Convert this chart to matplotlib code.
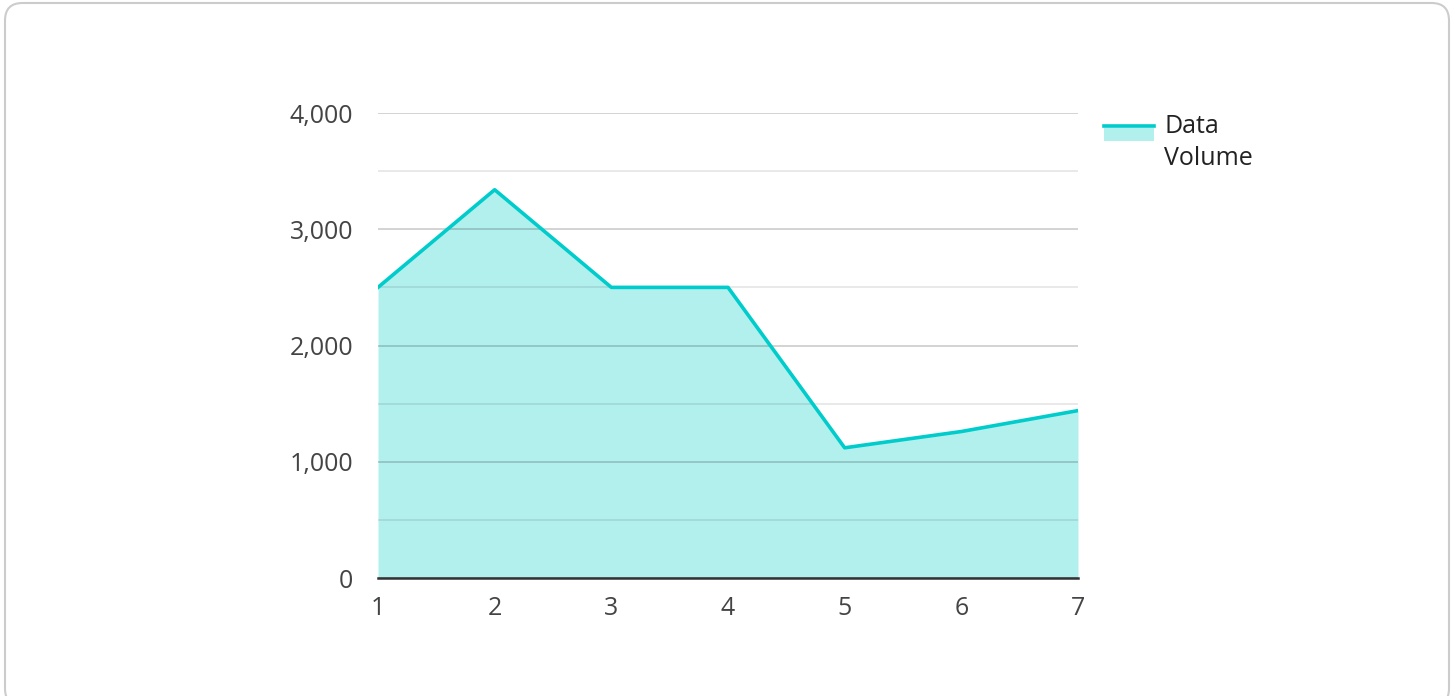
import matplotlib.pyplot as plt
from matplotlib.patches import FancyBboxPatch, Patch
from matplotlib.lines import Line2D
from matplotlib.legend_handler import HandlerBase
from matplotlib.ticker import FuncFormatter, MultipleLocator

plt.rcParams['font.family'] = ['Open Sans', 'DejaVu Sans']

x = [1, 2, 3, 4, 5, 6, 7]
volume = [2500, 3340, 2500, 2500, 1120, 1260, 1440]
series_name = "Data\nVolume"

line_color = '#00cccc'
fill_color = '#b2f0ee'

fig = plt.figure(figsize=(14.55, 6.96), dpi=100)
fig.patches.append(FancyBboxPatch((5 / 1455, -10 / 696), 1444 / 1455, 703 / 696,
                                  boxstyle='round,pad=0,rounding_size=0.012',
                                  transform=fig.transFigure, facecolor='white',
                                  edgecolor='#cccccc', linewidth=1.5, mutation_aspect=2.1,
                                  zorder=-5))

ax = fig.add_axes([378 / 1455, 1 - 578 / 696, 700 / 1455, 465 / 696])
ax.set_facecolor('none')

ax.fill_between(x, 0, volume, color=fill_color, zorder=1, linewidth=0)
ax.plot(x, volume, color=line_color, linewidth=2.6, zorder=3)

ax.set_xlim(1, 7)
ax.set_ylim(0, 4000)
ax.yaxis.set_major_locator(MultipleLocator(1000))
ax.yaxis.set_minor_locator(MultipleLocator(500))
ax.yaxis.set_major_formatter(FuncFormatter(lambda v, p: f'{int(v):,}'))
ax.set_xticks(x)

ax.grid(axis='y', which='major', color='#000000', alpha=0.2, linewidth=1.2, zorder=2)
ax.grid(axis='y', which='minor', color='#000000', alpha=0.1, linewidth=1.2, zorder=2)
ax.set_axisbelow(False)

for s in ['top', 'right', 'left']:
    ax.spines[s].set_visible(False)
ax.spines['bottom'].set_color('#333333')
ax.spines['bottom'].set_linewidth(1.8)
ax.spines['bottom'].set_zorder(4)

ax.tick_params(axis='both', which='both', length=0, labelsize=18, labelcolor='#444444')
ax.tick_params(axis='y', pad=18)
ax.tick_params(axis='x', pad=13)


class AreaHandler(HandlerBase):
    def create_artists(self, legend, orig, xd, yd, w, h, fontsize, trans):
        mid = yd + h / 2
        r = plt.Rectangle((xd, mid + 1.5), w, 9, facecolor=fill_color,
                          edgecolor='none', transform=trans)
        ln = Line2D([xd, xd + w], [mid + 12, mid + 12], color=line_color,
                    linewidth=2.6, transform=trans)
        return [r, ln]


handle = Patch(label=series_name)
leg = fig.legend([handle], [series_name], handler_map={Patch: AreaHandler()},
                 loc='upper left', bbox_to_anchor=(1104 / 1455, 1 - 114 / 696),
                 frameon=False, fontsize=18, handlelength=2.0,
                 handletextpad=0.42, labelcolor='#222222', borderaxespad=0,
                 borderpad=0)
for t in leg.get_texts():
    t.set_linespacing(1.35)

fig.savefig('out.png', dpi=100)
